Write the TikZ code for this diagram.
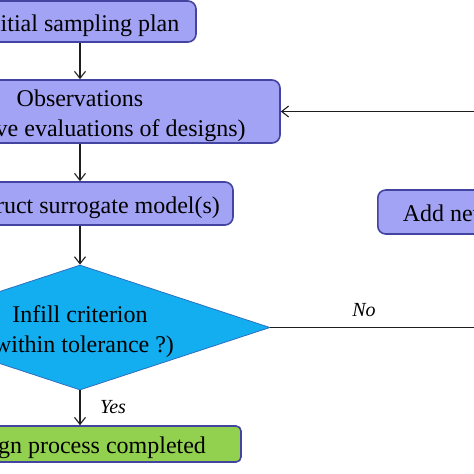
\documentclass[tikz,border=0pt]{standalone}
\usepackage{fontspec}
\setmainfont{Liberation Serif}
\usetikzlibrary{shapes.geometric,arrows.meta}
\definecolor{boxfill}{HTML}{A3A3F5}
\definecolor{boxline}{HTML}{4343A0}
\definecolor{greenfill}{HTML}{92D050}
\definecolor{diafill}{HTML}{12AEF0}
\definecolor{dialine}{HTML}{2E6FC0}
\definecolor{lineclr}{HTML}{1E1E1E}
\newcommand{\lowtxt}[1]{\raisebox{-3.5pt}[\height][\depth]{\begin{tabular}{@{}c@{}}#1\end{tabular}}}
\tikzset{
  box/.style={draw=boxline, fill=boxfill, line width=1.6pt, rounded corners=8pt,
    inner sep=0pt, font=\fontsize{24}{30}\selectfont},
  finbox/.style={box, fill=greenfill, rounded corners=5pt},
  dia/.style={shape=diamond, draw=dialine, fill=diafill, line width=0.8pt,
    inner sep=0pt, aspect=3.04, minimum width=380pt, minimum height=125pt,
    font=\fontsize{24}{30}\selectfont},
  lbl/.style={font=\fontsize{20}{24}\selectfont\itshape},
  conn/.style={draw=lineclr, line width=1.2pt, -{Straight Barb[length=7pt,width=11pt,line width=1.1pt]}},
  plain/.style={draw=lineclr, line width=1.2pt}
}
\begin{document}
\begin{tikzpicture}[x=1pt,y=-1pt]
\useasboundingbox (0,0) rectangle (474,474);
\clip (0,0) rectangle (474,474);
\node[box, minimum width=232pt, minimum height=41pt] (init) at (80,21.5) {\lowtxt{Initial sampling plan}};
\node[box, minimum width=400pt, minimum height=63pt] (obs) at (80,111.5) {\lowtxt{Observations\\(expensive evaluations of designs)}};
\node[box, minimum width=306pt, minimum height=43pt] (sur) at (80,203.5) {\lowtxt{Construct surrogate model(s)}};
\node[dia] (dia) at (80,327.5) {\lowtxt{Infill criterion\\(within tolerance ?)}};
\node[finbox, minimum width=322pt, minimum height=36pt] (fin) at (80,444) {\lowtxt{Design process completed}};
\node[box, anchor=west, inner xsep=25pt, minimum height=44pt] (add) at (377,212) {\lowtxt{Add new design(s)}};
\node[lbl] (no) at (364,310) {No};
\node[lbl] (yes) at (113,407) {Yes};
\draw[conn] (init.south) -- (obs.north);
\draw[conn] (obs.south) -- (sur.north);
\draw[conn] (sur.south) -- (dia.north);
\draw[conn] (dia.south) -- (fin.north);
\draw[plain] (dia.east) -| (add.south);
\draw[conn] (add.north) |- (obs.east);
\end{tikzpicture}
\end{document}
